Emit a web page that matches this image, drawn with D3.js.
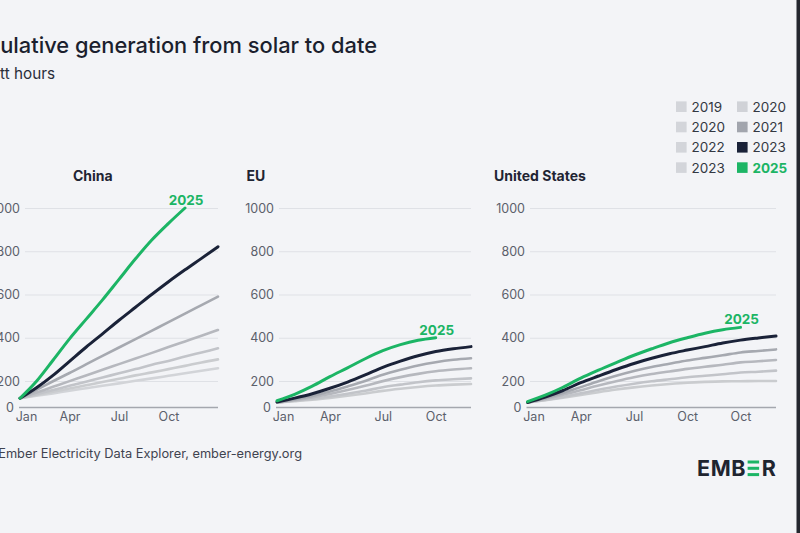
<!DOCTYPE html>
<html>
<head>
<meta charset="utf-8">
<script src="https://cdn.jsdelivr.net/npm/d3@7"></script>
<style>
body { margin:0; background:#f3f4f7; overflow:hidden; }
svg { display:block; font-family: Inter, "Open Sans", sans-serif; }
</style>
</head>
<body>
<div id="chart"></div>
<script>
// ---- data (TWh, cumulative, one value per month from Jan)
var yTicks = [0, 200, 400, 600, 800, 1000];
var monthTicks = [0, 3, 6, 9];
var monthLabels = ["Jan", "Apr", "Jul", "Oct"];
var usMonthTicks = [0, 3, 6, 9, 12];
var usMonthLabels = ["Jan", "Apr", "Jul", "Oct", "Oct"];

var legendCol1 = ["2019", "2020", "2022", "2023"];
var legendCol2 = ["2020", "2021", "2023", "2025"];

var china2025 = [67, 198, 296, 395, 485, 575, 670, 765, 853, 929, 1000];
var china2023 = [67, 148, 226, 291, 356, 418, 481, 541, 601, 659, 714, 767, 821];
var chinaGreyA = [67, 132, 198, 237, 277, 316, 355, 394, 433, 472, 512, 551, 590];
var chinaGreyB = [67, 111, 155, 199, 225, 252, 278, 304, 330, 357, 383, 409, 436];
var chinaGreyC = [67, 99, 131, 163, 195, 216, 236, 255, 275, 293, 313, 332, 351];
var chinaGreyD = [67, 92, 117, 142, 167, 192, 210, 226, 240, 255, 270, 286, 300];
var chinaGreyE = [67, 86, 105, 125, 144, 163, 182, 201, 212, 224, 236, 247, 259];

var eu2025 = [48, 97, 160, 220, 261, 303, 340, 368, 388, 400];
var eu2023 = [38, 68, 102, 144, 192, 228, 263, 292, 317, 336, 349, 359];
var euGreyA = [35, 58, 85, 119, 158, 200, 229, 252, 272, 287, 298, 305];
var euGreyB = [35, 53, 74, 100, 130, 163, 199, 218, 233, 245, 253, 259];
var euGreyC = [35, 48, 62, 81, 102, 125, 152, 172, 191, 203, 208, 212];
var euGreyD = [35, 45, 56, 70, 86, 104, 124, 140, 154, 165, 172, 177];

var us2025 = [41, 91, 152, 213, 250, 285, 319, 349, 377, 400, 421, 437, 448];
var us2023 = [35, 77, 127, 187, 223, 253, 281, 305, 326, 343, 359, 376, 389, 399, 408];
var usGreyA = [35, 68, 108, 153, 198, 224, 246, 265, 280, 295, 307, 319, 332, 339, 346];
var usGreyB = [35, 62, 94, 129, 165, 198, 217, 232, 244, 256, 266, 275, 286, 291, 297];
var usGreyC = [35, 55, 78, 105, 132, 157, 179, 198, 208, 217, 224, 231, 239, 243, 248];
var usGreyD = [35, 52, 71, 92, 114, 134, 151, 165, 177, 187, 193, 197, 198, 200, 200];

// ---- styles
var green = "#1cb565", navy = "#1a2238";
var greyShades = ["#a6a9b0", "#b6b8be", "#c2c4c9", "#cacccf", "#d2d4d8"];

var width = 800, height = 533;

var svg = d3.select("#chart")
    .append("svg")
    .attr("width", width)
    .attr("height", height);

svg.append("rect")
    .attr("width", width)
    .attr("height", height)
    .attr("fill", "#f3f4f7");

// measure text to get a font size giving a target width
function fitFont(txt, target, weight) {
    var t = svg.append("text").attr("font-size", 20).attr("font-weight", weight).text(txt);
    var w = t.node().getComputedTextLength();
    t.remove();
    return 20 * target / w;
}

// --------- titles (picture is cropped on the left)
svg.append("text")
    .attr("x", 377)
    .attr("y", 53)
    .attr("text-anchor", "end")
    .attr("font-size", fitFont("ulative generation from solar to date", 377, 500))
    .attr("font-weight", 500)
    .attr("fill", "#1b1f2e")
    .text("Cumulative generation from solar to date");

svg.append("text")
    .attr("x", 55)
    .attr("y", 79)
    .attr("text-anchor", "end")
    .attr("font-size", fitFont("tt hours", 55, 400))
    .attr("fill", "#2a2e3a")
    .text("Terawatt hours");

// --------- legend
var legend = svg.append("g").attr("class", "legend");
var legendColours1 = ["#d3d5da", "#d3d5da", "#d3d5da", "#d3d5da"];
var legendColours2 = ["#d0d2d7", "#a2a5ad", navy, green];

[[legendCol1, legendColours1, 676], [legendCol2, legendColours2, 737]].forEach(function (col, c) {
    col[0].forEach(function (lab, i) {
        var cy = 106.7 + i * 20.3;
        legend.append("rect")
            .attr("x", col[2])
            .attr("y", cy - 5.3)
            .attr("width", 10.6)
            .attr("height", 10.6)
            .attr("fill", col[1][i]);
        var isNew = (c === 1 && lab === "2025");
        legend.append("text")
            .attr("x", col[2] + 15.5)
            .attr("y", cy + 5)
            .attr("font-size", 13.5)
            .attr("font-weight", isNew ? 700 : 400)
            .attr("fill", isNew ? green : "#333842")
            .text(lab);
    });
});

// --------- panels
var y = d3.scaleLinear()
    .domain([0, 200, 1000])
    .range([407, 381, 208]);

var panels = [
    { name: "China", titleX: 73, x0: 20, x1: 218, gridX0: 25, months: 12,
      ticks: monthTicks, labels: monthLabels,
      greys: [chinaGreyE, chinaGreyD, chinaGreyC, chinaGreyB, chinaGreyA],
      dark: china2023, latest: china2025 },
    { name: "EU", titleX: 246.5, x0: 277, x1: 471, gridX0: 279, months: 11,
      ticks: monthTicks, labels: monthLabels,
      greys: [euGreyD, euGreyC, euGreyB, euGreyA],
      dark: eu2023, latest: eu2025 },
    { name: "United States", titleX: 494, x0: 527.5, x1: 776, gridX0: 530, months: 14,
      ticks: usMonthTicks, labels: usMonthLabels,
      greys: [usGreyD, usGreyC, usGreyB, usGreyA],
      dark: us2023, latest: us2025 }
];

panels.forEach(function (p) {
    var g = svg.append("g").attr("class", "panel");

    var x = d3.scaleLinear()
        .domain([0, p.months])
        .range([p.x0, p.x1]);

    g.append("text")
        .attr("x", p.titleX)
        .attr("y", 181)
        .attr("font-size", 14)
        .attr("font-weight", 700)
        .attr("fill", "#1f2433")
        .text(p.name);

    // y axis with gridlines
    var yAxisGroup = g.append("g")
        .attr("transform", "translate(" + p.gridX0 + ",0)")
        .call(d3.axisLeft(y).tickValues(yTicks).tickFormat(d3.format("d"))
            .tickSize(-(p.x1 - p.gridX0)).tickPadding(5));
    yAxisGroup.select(".domain").remove();
    yAxisGroup.attr("font-family", null).attr("font-size", 12.5);
    yAxisGroup.selectAll(".tick line").attr("stroke", "#dfe1e6").attr("stroke-width", 1);
    yAxisGroup.selectAll(".tick text").attr("fill", "#5b606b");
    yAxisGroup.selectAll(".tick").filter(function (d) { return d === 0; })
        .call(function (t) {
            t.select("line").attr("x1", p.x0 - p.gridX0 - 1).attr("stroke", "#a4a7ae").attr("stroke-width", 1.3);
            t.select("text").attr("x", p.x0 - p.gridX0 - 6);
        });

    // x axis labels
    var xAxisGroup = g.append("g")
        .attr("transform", "translate(0,407)")
        .call(d3.axisBottom(x).tickValues(p.ticks)
            .tickFormat(function (d, i) { return p.labels[i]; })
            .tickSize(0).tickPadding(5.5));
    xAxisGroup.select(".domain").remove();
    xAxisGroup.attr("font-family", null).attr("font-size", 12.5);
    xAxisGroup.selectAll(".tick text")
        .attr("fill", "#5b606b")
        .attr("dx", function (d, i) { return i === 0 ? 6 : 0; });

    var line = d3.line()
        .x(function (d, i) { return x(i); })
        .y(function (d) { return y(d); })
        .curve(d3.curveMonotoneX);

    var n = p.greys.length;
    p.greys.forEach(function (s, i) {
        g.append("path")
            .attr("d", line(s))
            .attr("fill", "none")
            .attr("stroke", greyShades[n - 1 - i])
            .attr("stroke-width", 2.6)
            .attr("stroke-linecap", "round");
    });

    g.append("path")
        .attr("d", line(p.dark))
        .attr("fill", "none")
        .attr("stroke", navy)
        .attr("stroke-width", 3)
        .attr("stroke-linecap", "round");

    g.append("path")
        .attr("d", line(p.latest))
        .attr("fill", "none")
        .attr("stroke", green)
        .attr("stroke-width", 3)
        .attr("stroke-linecap", "round");

    var last = p.latest.length - 1;
    g.append("text")
        .attr("x", x(last) + 1)
        .attr("y", y(p.latest[last]) - 3)
        .attr("text-anchor", "middle")
        .attr("font-size", 13.5)
        .attr("font-weight", 700)
        .attr("fill", green)
        .text("2025");
});

// --------- source
svg.append("text")
    .attr("x", 302)
    .attr("y", 458)
    .attr("text-anchor", "end")
    .attr("font-size", fitFont("Ember Electricity Data Explorer, ember-energy.org", 304, 400))
    .attr("fill", "#3f4350")
    .text("Source: Ember Electricity Data Explorer, ember-energy.org");

// --------- logo
var logo = svg.append("g").attr("class", "logo");
var emb = logo.append("text")
    .attr("x", 697)
    .attr("y", 476)
    .attr("font-size", 21.5)
    .attr("font-weight", 700)
    .attr("letter-spacing", 0.6)
    .attr("fill", "#1f2530")
    .text("EMB");
var embW = emb.node().getComputedTextLength();
var barX = 697 + embW + 1.5;
[460.5, 466.8, 473.1].forEach(function (by) {
    logo.append("rect")
        .attr("x", barX)
        .attr("y", by)
        .attr("width", 11.5)
        .attr("height", 3)
        .attr("fill", green);
});
logo.append("text")
    .attr("x", barX + 14)
    .attr("y", 476)
    .attr("font-size", 21.5)
    .attr("font-weight", 700)
    .attr("fill", "#1f2530")
    .text("R");

// right frame edge
svg.append("rect")
    .attr("x", 796.5)
    .attr("y", 0)
    .attr("width", 3.5)
    .attr("height", height)
    .attr("fill", "#24272e");
</script>
</body>
</html>
